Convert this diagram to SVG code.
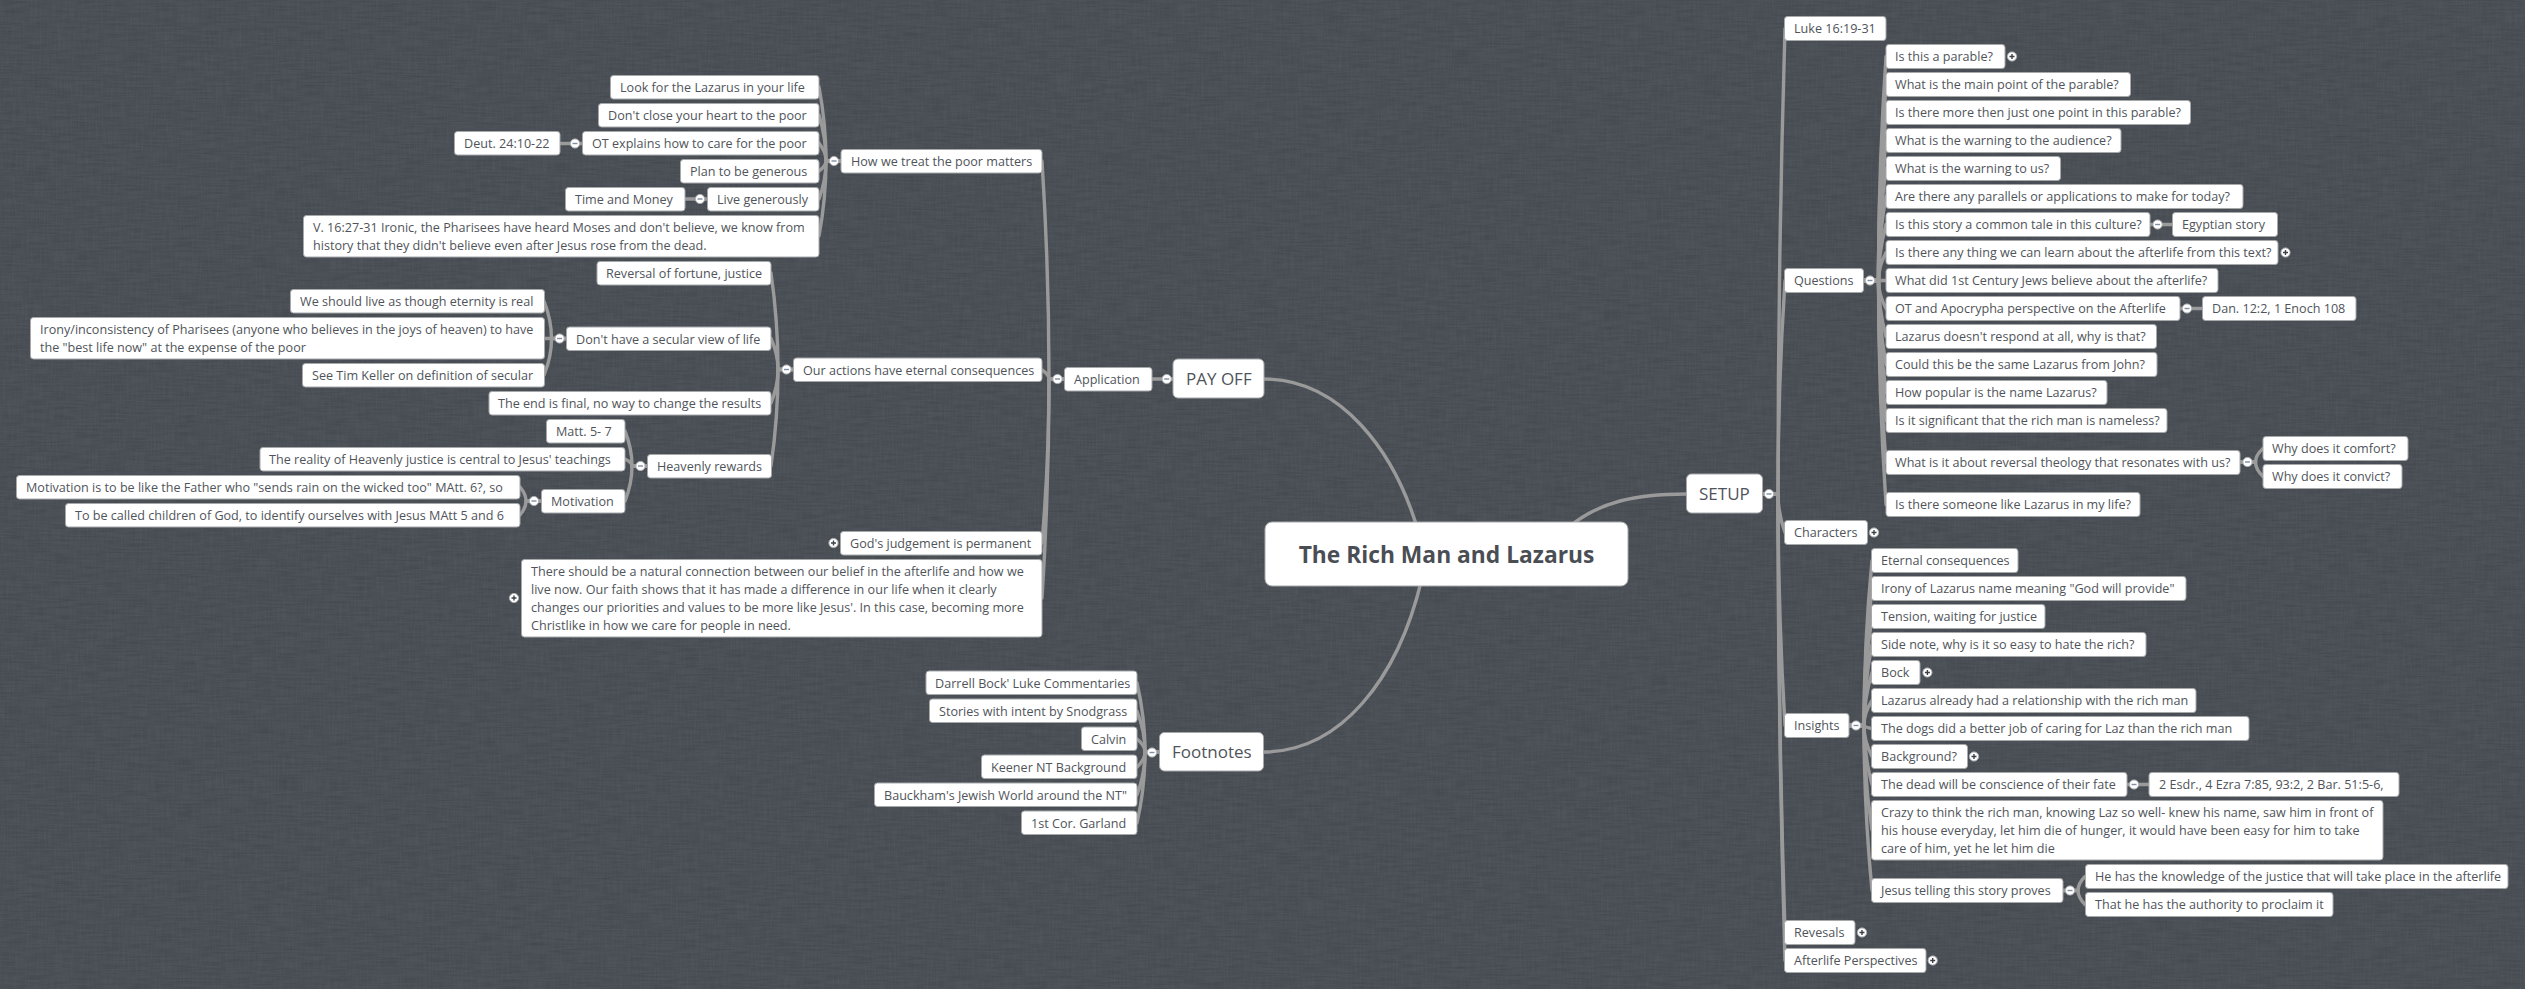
<svg xmlns="http://www.w3.org/2000/svg" width="2525" height="989" viewBox="0 0 2525 989">
<style>
.n{fill:#fff;stroke:#a6a8aa;stroke-width:1}
text{font-family:"Open Sans","Noto Sans","Liberation Sans",sans-serif;font-size:12.6px;fill:#50545a}
.m{font-size:17px}
.r{font-size:22.800px;font-weight:700;fill:#4a4e54}
.c{fill:none;stroke:#9a9a9a;stroke-width:3.400;stroke-linecap:round}
</style>
<defs>
<filter id="lh" x="0" y="0" width="100%" height="100%" color-interpolation-filters="sRGB"><feTurbulence type="fractalNoise" baseFrequency="0.04 0.55" numOctaves="2" seed="3"/><feColorMatrix values="0 0 0 0 0  0 0 0 0 0  0 0 0 0 0  .9 0 0 0 -.32"/></filter>
<filter id="lv" x="0" y="0" width="100%" height="100%" color-interpolation-filters="sRGB"><feTurbulence type="fractalNoise" baseFrequency="0.55 0.04" numOctaves="2" seed="8"/><feColorMatrix values="0 0 0 0 .55  0 0 0 0 .58  0 0 0 0 .62  .9 0 0 0 -.32"/></filter>
<g id="minus"><circle r="4.6" fill="#fff" stroke="#aeb0b2" stroke-width="1"/><path d="M-2.500 0H2.500" stroke="#7f8ea3" stroke-width="1.400"/></g>
<g id="plus"><circle r="4.6" fill="#fff" stroke="#aeb0b2" stroke-width="1"/><path d="M-2.500 0H2.500M0-2.500V2.500" stroke="#3c4046" stroke-width="1.400"/></g>
</defs>
<g id="background"><rect width="2525" height="989" fill="#4c5158"/><rect width="2525" height="989" filter="url(#lh)" opacity=".22"/><rect width="2525" height="989" filter="url(#lv)" opacity=".16"/></g>
<g id="connectors">
<path class="c" d="M1264 379C1340 379 1395 450 1419 534"/>
<path class="c" d="M1263 752C1340 752 1398 680 1422 578"/>
<path class="c" d="M1686 494C1635 494 1600 502 1570 526"/>
<path class="c" d="M1173 379H1152"/>
<path class="c" d="M1064 379H1049Q1049 270 1042 161"/>
<path class="c" d="M1064 379H1049Q1049 374.500 1042 370"/>
<path class="c" d="M1064 379H1049Q1049 461 1042 543"/>
<path class="c" d="M1064 379H1049Q1049 488.500 1042 598"/>
<path class="c" d="M841 161H826Q826 124 819 87"/>
<path class="c" d="M841 161H826Q826 138 819 115"/>
<path class="c" d="M841 161H826Q826 152 819 143"/>
<path class="c" d="M841 161H826Q826 166 819 171"/>
<path class="c" d="M841 161H826Q826 180 819 199"/>
<path class="c" d="M841 161H826Q826 198.500 819 236"/>
<path class="c" d="M582 143.500H560"/>
<path class="c" d="M707 199H685"/>
<path class="c" d="M793 369.500H778Q778 321 771 273"/>
<path class="c" d="M793 369.500H778Q778 354 771 338.500"/>
<path class="c" d="M793 369.500H778Q778 386 771 403"/>
<path class="c" d="M793 369.500H778Q778 418 771 466"/>
<path class="c" d="M566 338.500H551.500Q551.500 320 544 301"/>
<path class="c" d="M566 338.500H544"/>
<path class="c" d="M566 338.500H551.500Q551.500 357 544 375"/>
<path class="c" d="M647 466H632Q632 448.500 625 431"/>
<path class="c" d="M647 466H632Q632 462.500 625 459"/>
<path class="c" d="M647 466H632Q632 483.500 625 501"/>
<path class="c" d="M541 501H526Q526 494 520 487"/>
<path class="c" d="M541 501H526Q526 508 520 515"/>
<path class="c" d="M1159 752H1145Q1145 717.500 1137 683"/>
<path class="c" d="M1159 752H1145Q1145 731.500 1137 711"/>
<path class="c" d="M1159 752H1145Q1145 745.500 1137 739"/>
<path class="c" d="M1159 752H1145Q1145 759.500 1137 767"/>
<path class="c" d="M1159 752H1145Q1145 773.500 1137 795"/>
<path class="c" d="M1159 752H1145Q1145 787.500 1137 823"/>
<path class="c" d="M1762 494H1778Q1778 261 1785 28.500"/>
<path class="c" d="M1762 494H1778Q1778 387 1785 280.500"/>
<path class="c" d="M1762 494H1778Q1778 513 1785 532.500"/>
<path class="c" d="M1762 494H1778Q1778 610 1785 725.500"/>
<path class="c" d="M1762 494H1778Q1778 713 1785 932.500"/>
<path class="c" d="M1762 494H1778Q1778 727 1785 960.500"/>
<path class="c" d="M1864 280.500H1878.500Q1878.500 168.500 1886 56.500"/>
<path class="c" d="M1864 280.500H1878.500Q1878.500 182.500 1886 84.500"/>
<path class="c" d="M1864 280.500H1878.500Q1878.500 196.500 1886 112.500"/>
<path class="c" d="M1864 280.500H1878.500Q1878.500 210.500 1886 140.500"/>
<path class="c" d="M1864 280.500H1878.500Q1878.500 224.500 1886 168.500"/>
<path class="c" d="M1864 280.500H1878.500Q1878.500 238.500 1886 196.500"/>
<path class="c" d="M1864 280.500H1878.500Q1878.500 252.500 1886 224.500"/>
<path class="c" d="M1864 280.500H1878.500Q1878.500 266.500 1886 252.500"/>
<path class="c" d="M1864 280.500H1886"/>
<path class="c" d="M1864 280.500H1878.500Q1878.500 294.500 1886 308.500"/>
<path class="c" d="M1864 280.500H1878.500Q1878.500 308.500 1886 336.500"/>
<path class="c" d="M1864 280.500H1878.500Q1878.500 322.500 1886 364.500"/>
<path class="c" d="M1864 280.500H1878.500Q1878.500 336.500 1886 392.500"/>
<path class="c" d="M1864 280.500H1878.500Q1878.500 350.500 1886 420.500"/>
<path class="c" d="M1864 280.500H1878.500Q1878.500 371.500 1886 462.500"/>
<path class="c" d="M1864 280.500H1878.500Q1878.500 392.500 1886 504.500"/>
<path class="c" d="M2172 224.500H2150"/>
<path class="c" d="M2202 308.500H2180"/>
<path class="c" d="M2240 462H2255.500Q2255.500 455.250 2263 448.500"/>
<path class="c" d="M2240 462H2255.500Q2255.500 469.250 2263 476.500"/>
<path class="c" d="M1849 725.500H1864Q1864 643 1872 560.500"/>
<path class="c" d="M1849 725.500H1864Q1864 657 1872 588.500"/>
<path class="c" d="M1849 725.500H1864Q1864 671 1872 616.500"/>
<path class="c" d="M1849 725.500H1864Q1864 685 1872 644.500"/>
<path class="c" d="M1849 725.500H1864Q1864 699 1872 672.500"/>
<path class="c" d="M1849 725.500H1864Q1864 713 1872 700.500"/>
<path class="c" d="M1849 725.500H1864Q1864 727 1872 728.500"/>
<path class="c" d="M1849 725.500H1864Q1864 741 1872 756.500"/>
<path class="c" d="M1849 725.500H1864Q1864 755 1872 784.500"/>
<path class="c" d="M1849 725.500H1864Q1864 777.750 1872 830"/>
<path class="c" d="M1849 725.500H1864Q1864 808 1872 890.500"/>
<path class="c" d="M2149 784.500H2127"/>
<path class="c" d="M2063 890.500H2078Q2078 883.500 2085 876.500"/>
<path class="c" d="M2063 890.500H2078Q2078 897.500 2085 904.500"/>
</g>
<g id="central"><rect class="n" x="1265" y="522" width="363" height="64" rx="7"/><text class="r" x="1446.500" y="562.500" text-anchor="middle">The Rich Man and Lazarus</text></g>
<g id="pay-off"><rect class="n" x="1173" y="359" width="91" height="39" rx="5"/><text class="m" x="1186" y="385">PAY OFF</text></g>
<g id="setup"><rect class="n" x="1686.500" y="474" width="76" height="39" rx="5"/><text class="m" x="1699" y="500">SETUP</text><use href="#minus" x="1769" y="494"/></g>
<g id="footnotes"><rect class="n" x="1159.500" y="732.500" width="104" height="38.500" rx="5"/><text class="m" x="1172" y="758">Footnotes</text><use href="#minus" x="1152" y="752.500"/></g>
<g id="application"><rect class="n" x="1064.500" y="367.500" width="87.500" height="23.500" rx="3"/><text x="1074" y="384">Application</text><use href="#minus" x="1057.500" y="379"/><use href="#minus" x="1166.700" y="379"/></g>
<g id="how-we-treat"><rect class="n" x="841" y="149.500" width="201" height="23.500" rx="3"/><text x="851" y="166">How we treat the poor matters</text><use href="#minus" x="834" y="161"/></g>
<g id="look"><rect class="n" x="610.500" y="75.500" width="208.500" height="23.500" rx="3"/><text x="620" y="92">Look for the Lazarus in your life</text></g>
<g id="dont-close"><rect class="n" x="598.500" y="103.500" width="220.500" height="23.500" rx="3"/><text x="608" y="120">Don't close your heart to the poor</text></g>
<g id="ot-explains"><rect class="n" x="582.500" y="131.500" width="236.500" height="23.500" rx="3"/><text x="592" y="148">OT explains how to care for the poor</text><use href="#minus" x="575" y="143.500"/></g>
<g id="deut"><rect class="n" x="454.500" y="131.500" width="105.500" height="23.500" rx="3"/><text x="464" y="148">Deut. 24:10-22</text></g>
<g id="plan"><rect class="n" x="680.500" y="159.500" width="138.500" height="23.500" rx="3"/><text x="690" y="176">Plan to be generous</text></g>
<g id="live"><rect class="n" x="707.500" y="187.500" width="111.500" height="23.500" rx="3"/><text x="717" y="204">Live generously</text><use href="#minus" x="700" y="199"/></g>
<g id="time-money"><rect class="n" x="565.500" y="187.500" width="119.500" height="23.500" rx="3"/><text x="575" y="204">Time and Money</text></g>
<g id="ironic"><rect class="n" x="303.500" y="215.500" width="515.500" height="41.500" rx="3"/><text x="313" y="232">V. 16:27-31 Ironic, the Pharisees have heard Moses and don't believe, we know from</text><text x="313" y="250">history that they didn't believe even after Jesus rose from the dead.</text></g>
<g id="our-actions"><rect class="n" x="793.500" y="358" width="248.500" height="23.500" rx="3"/><text x="803" y="374.500">Our actions have eternal consequences</text><use href="#minus" x="786.500" y="369.500"/></g>
<g id="reversal"><rect class="n" x="597" y="261.500" width="174" height="23.500" rx="3"/><text x="606" y="278">Reversal of fortune, justice</text></g>
<g id="secular"><rect class="n" x="566.500" y="327" width="204.500" height="23.500" rx="3"/><text x="576" y="343.500">Don't have a secular view of life</text><use href="#minus" x="559.600" y="338.500"/></g>
<g id="eternity"><rect class="n" x="290.500" y="289.500" width="254" height="23.500" rx="3"/><text x="300" y="306">We should live as though eternity is real</text></g>
<g id="irony-pharisees"><rect class="n" x="30.500" y="317.500" width="514" height="41.500" rx="3"/><text x="40" y="334">Irony/inconsistency of Pharisees (anyone who believes in the joys of heaven) to have</text><text x="40" y="352">the "best life now" at the expense of the poor</text></g>
<g id="keller"><rect class="n" x="302.500" y="363.500" width="242" height="23.500" rx="3"/><text x="312" y="380">See Tim Keller on definition of secular</text></g>
<g id="end-final"><rect class="n" x="489" y="391.500" width="282" height="23.500" rx="3"/><text x="498" y="408">The end is final, no way to change the results</text></g>
<g id="heavenly"><rect class="n" x="647.500" y="454.500" width="124" height="23.500" rx="3"/><text x="657" y="471">Heavenly rewards</text><use href="#minus" x="640.500" y="466"/></g>
<g id="matt57"><rect class="n" x="546.500" y="419.500" width="78.500" height="23.500" rx="3"/><text x="556" y="436">Matt. 5- 7</text></g>
<g id="reality"><rect class="n" x="260" y="447.500" width="365" height="23.500" rx="3"/><text x="269" y="464">The reality of Heavenly justice is central to Jesus' teachings</text></g>
<g id="motivation"><rect class="n" x="541.500" y="489.500" width="83.500" height="23.500" rx="3"/><text x="551" y="506">Motivation</text><use href="#minus" x="534" y="501"/></g>
<g id="motivation-father"><rect class="n" x="16.500" y="475.500" width="503.500" height="23.500" rx="3"/><text x="26" y="492">Motivation is to be like the Father who "sends rain on the wicked too" MAtt. 6?, so</text></g>
<g id="children-god"><rect class="n" x="65.500" y="503.500" width="454.500" height="23.500" rx="3"/><text x="75" y="520">To be called children of God, to identify ourselves with Jesus MAtt 5 and 6</text></g>
<g id="judgement"><rect class="n" x="840.500" y="531.500" width="201.500" height="23.500" rx="3"/><text x="850" y="548">God's judgement is permanent</text><use href="#plus" x="833.500" y="543"/></g>
<g id="natural"><rect class="n" x="521.500" y="559.500" width="520.500" height="77.500" rx="3"/><text x="531" y="576">There should be a natural connection between our belief in the afterlife and how we</text><text x="531" y="594">live now. Our faith shows that it has made a difference in our life when it clearly</text><text x="531" y="612">changes our priorities and values to be more like Jesus'. In this case, becoming more</text><text x="531" y="630">Christlike in how we care for people in need.</text><use href="#plus" x="514" y="598"/></g>
<g id="darrell"><rect class="n" x="926" y="671" width="211" height="23.500" rx="3"/><text x="935" y="688">Darrell Bock' Luke Commentaries</text></g>
<g id="stories"><rect class="n" x="929.500" y="699" width="207.500" height="23.500" rx="3"/><text x="939" y="716">Stories with intent by Snodgrass</text></g>
<g id="calvin"><rect class="n" x="1081.500" y="727" width="55.500" height="23.500" rx="3"/><text x="1091" y="744">Calvin</text></g>
<g id="keener"><rect class="n" x="981.500" y="755" width="155.500" height="23.500" rx="3"/><text x="991" y="772">Keener NT Background</text></g>
<g id="bauckham"><rect class="n" x="874.500" y="783" width="262.500" height="23.500" rx="3"/><text x="884" y="800">Bauckham's Jewish World around the NT"</text></g>
<g id="garland"><rect class="n" x="1021.500" y="811" width="115.500" height="23.500" rx="3"/><text x="1031" y="828">1st Cor. Garland</text></g>
<g id="luke"><rect class="n" x="1784.500" y="16.500" width="101.500" height="24" rx="3"/><text x="1794" y="33">Luke 16:19-31</text></g>
<g id="questions"><rect class="n" x="1784.500" y="268.500" width="79" height="24" rx="3"/><text x="1794" y="285">Questions</text><use href="#minus" x="1870" y="280.500"/></g>
<g id="q1"><rect class="n" x="1886" y="44.500" width="119" height="24" rx="3"/><text x="1895" y="61">Is this a parable?</text><use href="#plus" x="2012" y="56.500"/></g>
<g id="q2"><rect class="n" x="1886" y="72.500" width="244.500" height="24" rx="3"/><text x="1895" y="89">What is the main point of the parable?</text></g>
<g id="q3"><rect class="n" x="1886" y="100.500" width="304.500" height="24" rx="3"/><text x="1895" y="117">Is there more then just one point in this parable?</text></g>
<g id="q4"><rect class="n" x="1886" y="128.500" width="235" height="24" rx="3"/><text x="1895" y="145">What is the warning to the audience?</text></g>
<g id="q5"><rect class="n" x="1886" y="156.500" width="174.500" height="24" rx="3"/><text x="1895" y="173">What is the warning to us?</text></g>
<g id="q6"><rect class="n" x="1886" y="184.500" width="357" height="24" rx="3"/><text x="1895" y="201">Are there any parallels or applications to make for today?</text></g>
<g id="q7"><rect class="n" x="1886" y="212.500" width="264" height="24" rx="3"/><text x="1895" y="229">Is this story a common tale in this culture?</text><use href="#minus" x="2157.600" y="224.500"/></g>
<g id="egyptian"><rect class="n" x="2172.500" y="212.500" width="105" height="24" rx="3"/><text x="2182" y="229">Egyptian story</text></g>
<g id="q8"><rect class="n" x="1886" y="240.500" width="392" height="24" rx="3"/><text x="1895" y="257">Is there any thing we can learn about the afterlife from this text?</text><use href="#plus" x="2285.500" y="252.500"/></g>
<g id="q9"><rect class="n" x="1886" y="268.500" width="332" height="24" rx="3"/><text x="1895" y="285">What did 1st Century Jews believe about the afterlife?</text></g>
<g id="q10"><rect class="n" x="1886" y="296.500" width="294" height="24" rx="3"/><text x="1895" y="313">OT and Apocrypha perspective on the Afterlife</text><use href="#minus" x="2187" y="308.500"/></g>
<g id="daniel"><rect class="n" x="2202.500" y="296.500" width="153.500" height="24" rx="3"/><text x="2212" y="313">Dan. 12:2, 1 Enoch 108</text></g>
<g id="q11"><rect class="n" x="1886" y="324.500" width="270.500" height="24" rx="3"/><text x="1895" y="341">Lazarus doesn't respond at all, why is that?</text></g>
<g id="q12"><rect class="n" x="1886" y="352.500" width="271" height="24" rx="3"/><text x="1895" y="369">Could this be the same Lazarus from John?</text></g>
<g id="q13"><rect class="n" x="1886" y="380.500" width="221" height="24" rx="3"/><text x="1895" y="397">How popular is the name Lazarus?</text></g>
<g id="q14"><rect class="n" x="1886" y="408.500" width="281" height="24" rx="3"/><text x="1895" y="425">Is it significant that the rich man is nameless?</text></g>
<g id="q15"><rect class="n" x="1886" y="450.500" width="354" height="24" rx="3"/><text x="1895" y="467">What is it about reversal theology that resonates with us?</text><use href="#minus" x="2247.500" y="462"/></g>
<g id="comfort"><rect class="n" x="2263" y="436.500" width="145" height="24" rx="3"/><text x="2272" y="453">Why does it comfort?</text></g>
<g id="convict"><rect class="n" x="2263" y="464.500" width="139" height="24" rx="3"/><text x="2272" y="481">Why does it convict?</text></g>
<g id="q16"><rect class="n" x="1886" y="492.500" width="254" height="24" rx="3"/><text x="1895" y="509">Is there someone like Lazarus in my life?</text></g>
<g id="characters"><rect class="n" x="1784.500" y="520.500" width="83" height="24" rx="3"/><text x="1794" y="537">Characters</text><use href="#plus" x="1874" y="532.500"/></g>
<g id="insights"><rect class="n" x="1784.500" y="713.500" width="64.500" height="24" rx="3"/><text x="1794" y="730">Insights</text><use href="#minus" x="1856" y="725.500"/></g>
<g id="i1"><rect class="n" x="1871.500" y="548.500" width="146.500" height="24" rx="3"/><text x="1881" y="565">Eternal consequences</text></g>
<g id="i2"><rect class="n" x="1871.500" y="576.500" width="314.500" height="24" rx="3"/><text x="1881" y="593">Irony of Lazarus name meaning "God will provide"</text></g>
<g id="i3"><rect class="n" x="1871.500" y="604.500" width="173.500" height="24" rx="3"/><text x="1881" y="621">Tension, waiting for justice</text></g>
<g id="i4"><rect class="n" x="1871.500" y="632.500" width="274.500" height="24" rx="3"/><text x="1881" y="649">Side note, why is it so easy to hate the rich?</text></g>
<g id="i5"><rect class="n" x="1871.500" y="660.500" width="48.500" height="24" rx="3"/><text x="1881" y="677">Bock</text><use href="#plus" x="1927.400" y="672.500"/></g>
<g id="i6"><rect class="n" x="1871.500" y="688.500" width="324.500" height="24" rx="3"/><text x="1881" y="705">Lazarus already had a relationship with the rich man</text></g>
<g id="i7"><rect class="n" x="1871.500" y="716.500" width="377.500" height="24" rx="3"/><text x="1881" y="733">The dogs did a better job of caring for Laz than the rich man</text></g>
<g id="i8"><rect class="n" x="1871.500" y="744.500" width="96" height="24" rx="3"/><text x="1881" y="761">Background?</text><use href="#plus" x="1974" y="756.500"/></g>
<g id="i9"><rect class="n" x="1871.500" y="772.500" width="255.500" height="24" rx="3"/><text x="1881" y="789">The dead will be conscience of their fate</text><use href="#minus" x="2134" y="784.500"/></g>
<g id="esdras"><rect class="n" x="2149" y="772.500" width="250" height="24" rx="3"/><text x="2159" y="789">2 Esdr., 4 Ezra 7:85, 93:2, 2 Bar. 51:5-6,</text></g>
<g id="i10"><rect class="n" x="1871.500" y="800.500" width="511.500" height="59.500" rx="3"/><text x="1881" y="817">Crazy to think the rich man, knowing Laz so well- knew his name, saw him in front of</text><text x="1881" y="835">his house everyday, let him die of hunger, it would have been easy for him to take</text><text x="1881" y="853">care of him, yet he let him die</text></g>
<g id="i11"><rect class="n" x="1871.500" y="878.500" width="191.500" height="24" rx="3"/><text x="1881" y="895">Jesus telling this story proves</text><use href="#minus" x="2070" y="890.500"/></g>
<g id="knowledge"><rect class="n" x="2085.500" y="864.500" width="422.500" height="24" rx="3"/><text x="2095" y="881">He has the knowledge of the justice that will take place in the afterlife</text></g>
<g id="authority"><rect class="n" x="2085.500" y="892.500" width="247.500" height="24" rx="3"/><text x="2095" y="909">That he has the authority to proclaim it</text></g>
<g id="revesals"><rect class="n" x="1784.500" y="920.500" width="70.500" height="24" rx="3"/><text x="1794" y="937">Revesals</text><use href="#plus" x="1862" y="932.500"/></g>
<g id="afterlife"><rect class="n" x="1784.500" y="948.500" width="141.500" height="24" rx="3"/><text x="1794" y="965">Afterlife Perspectives</text><use href="#plus" x="1932.700" y="960.500"/></g>
</svg>
